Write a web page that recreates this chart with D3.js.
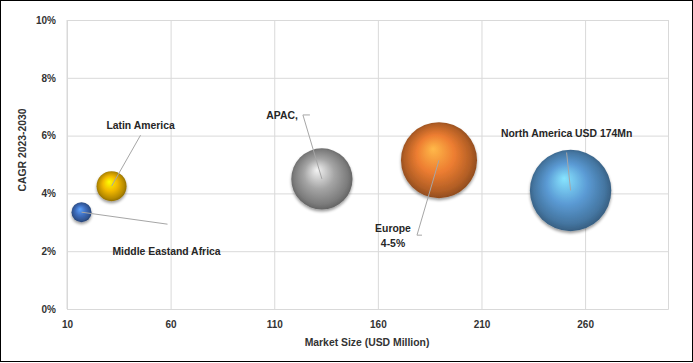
<!DOCTYPE html>
<html>
<head>
<meta charset="utf-8">
<script src="https://cdn.jsdelivr.net/npm/d3@7"></script>
<style>
  body { margin: 0; background: #fff; }
  text { font-family: "Liberation Sans", Arial, sans-serif; }
</style>
</head>
<body>
<svg width="693" height="363"></svg>
<script>
// data
var regions = ["Middle East and Africa", "Latin America", "APAC", "Europe", "North America"];
var marketSize = [17, 31.5, 133, 189.5, 253];
var cagr = [0.0335, 0.0425, 0.045, 0.0515, 0.041];
var bubbleSize = [10.5, 23.6, 98.4, 151.7, 174];
var labelText = [["Middle Eastand Africa"], ["Latin America"], ["APAC,"], ["Europe", "4-5%"], ["North America USD 174Mn"]];
var xTicks = [10, 60, 110, 160, 210, 260];
var yTicks = [0, 0.02, 0.04, 0.06, 0.08, 0.1];

var colors = ["#3f6fc0", "#f2b800", "#a5a5a5", "#ed7d31", "#5b9bd5"];

// label placement relative to bubble centre (pixels)
var labelLayout = [
  { dx: 85, dy: 43, anchor: "middle", leader: [[86, 12]] },
  { dx: 29, dy: -57, anchor: "middle", leader: [[29, -51]] },
  { dx: -24, dy: -60, anchor: "end", leader: [[-19, -64], [-12, -64]] },
  { dx: -46, dy: 72, anchor: "middle", leader: [[-22, 75], [-17, 75]] },
  { dx: -4, dy: -54, anchor: "middle", leader: [[-4, -38]] }
];

var svg = d3.select("svg"),
  margin = { top: 20, right: 25, bottom: 54, left: 67 },
  width = +svg.attr("width") - margin.left - margin.right,
  height = +svg.attr("height") - margin.top - margin.bottom;

svg.append("rect")
  .attr("x", 0.5).attr("y", 0.5)
  .attr("width", 692).attr("height", 361)
  .attr("fill", "#fff").attr("stroke", "#000");

var defs = svg.append("defs");
colors.forEach(function (c, i) {
  var base = d3.color(c);
  var grad = defs.append("radialGradient")
    .attr("id", "ball" + i)
    .attr("cx", "50%").attr("cy", "50%").attr("r", "55%")
    .attr("fx", "42%").attr("fy", "35%");
  grad.append("stop").attr("offset", "0%").attr("stop-color", base.brighter(1.1));
  grad.append("stop").attr("offset", "45%").attr("stop-color", base);
  grad.append("stop").attr("offset", "80%").attr("stop-color", base.darker(0.8));
  grad.append("stop").attr("offset", "100%").attr("stop-color", base.darker(1.8));
});
var shadow = defs.append("filter").attr("id", "shadow")
  .attr("x", "-30%").attr("y", "-30%").attr("width", "160%").attr("height", "160%");
shadow.append("feGaussianBlur").attr("in", "SourceAlpha").attr("stdDeviation", 1.5);
shadow.append("feOffset").attr("dx", 0).attr("dy", 2).attr("result", "off");
shadow.append("feComponentTransfer").append("feFuncA").attr("type", "linear").attr("slope", 0.4);
var merge = shadow.append("feMerge");
merge.append("feMergeNode");
merge.append("feMergeNode").attr("in", "SourceGraphic");

var g = svg.append("g")
  .attr("transform", "translate(" + margin.left + "," + margin.top + ")");

var x = d3.scaleLinear().domain([10, 300]).range([0, width]);
var y = d3.scaleLinear().domain([0, 0.1]).range([height, 0]);
var r = d3.scaleSqrt().domain([0, d3.max(bubbleSize)]).range([0, 40.7]);

// gridlines
g.append("g")
  .call(d3.axisLeft(y).tickValues(yTicks).tickSize(-width).tickFormat(d3.format(".0%")))
  .call(function (a) {
    a.select(".domain").remove();
    a.selectAll("line").attr("stroke", "#d9d9d9");
    a.selectAll("text").attr("x", -11).attr("fill", "#333")
      .attr("font-size", 10).attr("font-weight", "bold");
  });

g.append("g")
  .attr("transform", "translate(0," + height + ")")
  .call(d3.axisBottom(x).tickValues(xTicks).tickSize(-height).tickFormat(d3.format("d")))
  .call(function (a) {
    a.select(".domain").attr("stroke", "#d9d9d9");
    a.selectAll("line").attr("stroke", "#d9d9d9");
    a.selectAll("text").attr("y", 12).attr("fill", "#333")
      .attr("font-size", 10).attr("font-weight", "bold");
  });

g.append("line")
  .attr("x1", 0).attr("x2", 0).attr("y1", 0).attr("y2", height)
  .attr("stroke", "#d9d9d9");

// bubbles, largest first
var idx = d3.range(regions.length).sort(function (a, b) { return bubbleSize[b] - bubbleSize[a]; });
g.selectAll("circle.bubble")
  .data(idx)
  .join("circle")
  .attr("class", "bubble")
  .attr("cx", function (i) { return x(marketSize[i]); })
  .attr("cy", function (i) { return y(cagr[i]); })
  .attr("r", function (i) { return r(bubbleSize[i]); })
  .attr("fill", function (i) { return "url(#ball" + i + ")"; })
  .attr("filter", "url(#shadow)");

// leader lines and labels
var labels = g.selectAll("g.label")
  .data(d3.range(regions.length))
  .join("g")
  .attr("class", "label")
  .attr("transform", function (i) {
    return "translate(" + x(marketSize[i]) + "," + y(cagr[i]) + ")";
  });

labels.append("polyline")
  .attr("points", function (i) {
    return [[0, 0]].concat(labelLayout[i].leader).map(function (p) { return p.join(","); }).join(" ");
  })
  .attr("fill", "none")
  .attr("stroke", "#a6a6a6")
  .attr("stroke-width", 1);

labels.append("text")
  .attr("text-anchor", function (i) { return labelLayout[i].anchor; })
  .attr("font-size", 10.4)
  .attr("font-weight", "bold")
  .attr("fill", "#262626")
  .selectAll("tspan")
  .data(function (i) {
    return labelText[i].map(function (t, k) { return { t: t, i: i, k: k }; });
  })
  .join("tspan")
  .attr("x", function (d) { return labelLayout[d.i].dx; })
  .attr("y", function (d) { return labelLayout[d.i].dy + d.k * 15; })
  .text(function (d) { return d.t; });

// axis titles
svg.append("text")
  .attr("transform", "translate(26,150) rotate(-90)")
  .attr("text-anchor", "middle")
  .attr("font-size", 10.4)
  .attr("font-weight", "bold")
  .attr("fill", "#333")
  .text("CAGR 2023-2030");

svg.append("text")
  .attr("x", 367)
  .attr("y", 346)
  .attr("text-anchor", "middle")
  .attr("font-size", 10.4)
  .attr("font-weight", "bold")
  .attr("fill", "#333")
  .text("Market Size (USD Million)");
</script>
</body>
</html>
